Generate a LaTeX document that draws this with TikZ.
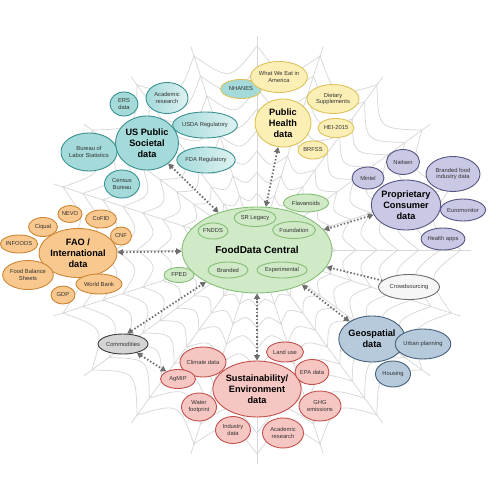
\documentclass[tikz,border=0pt]{standalone}
\usepackage{fontspec}
\setmainfont{Liberation Sans}
\usetikzlibrary{shapes.geometric,arrows.meta}
\definecolor{webc}{HTML}{D8D8D8}
\definecolor{txtc}{HTML}{333333}
\definecolor{arrc}{HTML}{6E6E6E}
\definecolor{usF}{HTML}{A4DADA}
\definecolor{usD}{HTML}{3A9090}
\definecolor{phF}{HTML}{FCEFB6}
\definecolor{phD}{HTML}{DCC25A}
\definecolor{prF}{HTML}{C9C9E5}
\definecolor{prD}{HTML}{55557F}
\definecolor{faF}{HTML}{F8C88E}
\definecolor{faD}{HTML}{CC8636}
\definecolor{fdF}{HTML}{D0E9C7}
\definecolor{fdD}{HTML}{86BE76}
\definecolor{suF}{HTML}{F6C6C2}
\definecolor{suD}{HTML}{C2504C}
\definecolor{geF}{HTML}{B6CADC}
\definecolor{geD}{HTML}{45607A}
\definecolor{coF}{HTML}{D4D4D4}
\definecolor{coD}{HTML}{3E3E3E}
\definecolor{crF}{HTML}{F6F6F6}
\definecolor{crD}{HTML}{6E6E6E}
\tikzset{
  web/.style={draw=webc, line width=0.75pt},
  bub/.style={ellipse, draw, line width=0.9pt, inner sep=0pt, align=center, text=txtc,
              font=\fontsize{5.8}{6.8}\selectfont},
  ttl/.style={font=\bfseries\fontsize{9.2}{10.8}\selectfont, text=black},
  sz/.style 2 args={minimum width=#1pt, minimum height=#2pt},
  cUS/.style={fill=usF, draw=usD},
  cUSs/.style={left color=usF, right color=usF!35!white, draw=usD},
  cPH/.style={fill=phF, draw=phD},
  cPR/.style={fill=prF, draw=prD},
  cFA/.style={fill=faF, draw=faD},
  cFD/.style={fill=fdF, draw=fdD},
  cSU/.style={fill=suF, draw=suD},
  cGE/.style={fill=geF, draw=geD},
  cCO/.style={fill=coF, draw=coD},
  cCR/.style={fill=crF, draw=crD},
  conn/.style={draw=arrc, line width=1.8pt, dash pattern=on 1.5pt off 2pt,
               >={Triangle[length=5.5pt,width=6pt]}}
}
\begin{document}
\begin{tikzpicture}[x=1pt,y=-1pt]
\fill[white] (0,0) rectangle (500,500);
\useasboundingbox (0,0) rectangle (500,500);
% spider web
\begin{scope}[shift={(257,250)}]
  \foreach \a in {0,18,...,342} \draw[web] (0,0) -- (\a:214);
  \foreach \r in {36,57,...,204} {
    \pgfmathsetmacro\rc{0.84*\r}
    \foreach \a in {0,18,...,342} {
      \pgfmathsetmacro\am{\a+9}
      \pgfmathsetmacro\ae{\a+18}
      \draw[web] (\a:\r) .. controls (\am:\rc) .. (\ae:\r);
    }
  }
\end{scope}

% FoodData Central
\node[bub,cFD,sz={150}{86},font=\bfseries\fontsize{10}{12}\selectfont,text=black] (fdc) at (257,250) {FoodData Central};
\node[bub,cFD,sz={42}{17}] (srleg) at (255,218) {SR Legacy};
\node[bub,cFD,sz={30}{16}] (fndds) at (213,231) {FNDDS};
\node[bub,cFD,sz={43}{17}] (found) at (294,230) {Foundation};
\node[bub,cFD,sz={45}{18}] (flav) at (306,203) {Flavanoids};
\node[bub,cFD,sz={40}{16}] (brand) at (228,270) {Branded};
\node[bub,cFD,sz={50}{16}] (exper) at (282,270) {Experimental};
\node[bub,cFD,sz={30}{15}] (fped) at (179,275) {FPED};

% US Public Societal
\node[bub,cUS,ttl,sz={63}{54}] (uspub) at (147,143) {US Public\\Societal\\data};
\node[bub,cUS,sz={28}{24}] (ers) at (124,104) {ERS\\data};
\node[bub,cUSs,sz={42}{31}] (acad1) at (167,98) {Academic\\research};
\node[bub,cUSs,sz={50}{26}] (usda) at (205,125) {USDA Regulatory};
\node[bub,cUSs,sz={50}{26}] (fda) at (206,160) {FDA Regulatory};
\node[bub,cUS,sz={46}{38}] (bls) at (89,152) {Bureau of\\Labor Statistics};
\node[bub,cUS,sz={35}{28}] (census) at (122,184) {Census\\Bureau};

% Public Health
\node[bub,cPH,ttl,sz={56}{48}] (ph) at (283,123) {Public\\Health\\data};
\node[bub,cUS,draw=phD,sz={41}{19}] (nhanes) at (241,89) {NHANES};
\node[bub,cPH,sz={51}{31}] (wwe) at (279,77) {What We Eat in\\America};
\node[bub,cPH,sz={52}{29}] (diet) at (333,99) {Dietary\\Supplements};
\node[bub,cPH,sz={36}{19}] (hei) at (336,128) {HEI-2015};
\node[bub,cPH,sz={30}{18}] (brfss) at (313,150) {BRFSS};

% Proprietary Consumer
\node[bub,cPR,ttl,sz={61}{50}] (prop) at (406,205) {Proprietary\\Consumer\\data};
\node[bub,cPR,sz={33}{25}] (niel) at (403,162) {Nielsen};
\node[bub,cPR,sz={32}{22}] (mintel) at (368,178) {Mintel};
\node[bub,cPR,sz={54}{35}] (bfid) at (453,174) {Branded food\\industry data};
\node[bub,cPR,sz={45}{22}] (euro) at (463,210) {Euromonitor};
\node[bub,cPR,sz={38}{22}] (happ) at (443,239) {Health apps};
\node[bub,cCR,sz={61}{25}] (crowd) at (409,287) {Crowdsourcing};

% FAO / International
\node[bub,cFA,ttl,sz={63}{49}] (fao) at (78,253) {FAO /\\International\\data};
\node[bub,cFA,sz={24}{17}] (nevo) at (70,214) {NEVO};
\node[bub,cFA,sz={29}{19}] (ciqual) at (43,227) {Ciqual};
\node[bub,cFA,sz={31}{18}] (cofid) at (101,219) {CoFID};
\node[bub,cFA,sz={21}{18}] (cnf) at (121,236) {CNF};
\node[bub,cFA,sz={35}{18}] (infoods) at (19,244) {INFOODS};
\node[bub,cFA,sz={45}{29}] (fbs) at (28,275) {Food Balance\\Sheets};
\node[bub,cFA,sz={46}{20}] (wb) at (99,284) {World Bank};
\node[bub,cFA,sz={24}{18}] (gdp) at (63,295) {GDP};
\node[bub,cCO,sz={50}{20}] (commod) at (123,344) {Commodities};

% Sustainability / Environment
\node[bub,cSU,ttl,sz={81}{56}] (sust) at (257,389) {Sustainability/\\Environment\\data};
\node[bub,cSU,sz={40}{30}] (climate) at (203,362) {Climate data};
\node[bub,cSU,sz={35}{19}] (agmip) at (178,379) {AgMIP};
\node[bub,cSU,sz={37}{20}] (landuse) at (285,352) {Land use};
\node[bub,cSU,sz={27}{25}] (epa) at (312,372) {EPA data};
\node[bub,cSU,sz={35}{28}] (water) at (199,407) {Water\\footprint};
\node[bub,cSU,sz={42}{30}] (ghg) at (320,406) {GHG\\emissions};
\node[bub,cSU,sz={35}{27}] (indus) at (233,430) {Industry\\data};
\node[bub,cSU,sz={41}{30}] (acad2) at (283,433) {Academic\\research};

% Geospatial
\node[bub,cGE,ttl,sz={54}{46}] (geo) at (372,339) {Geospatial\\data};
\node[bub,cGE,sz={44}{30}] (urban) at (423,344) {Urban planning};
\node[bub,cGE,sz={35}{26}] (housing) at (393,374) {Housing};

% connectors
\draw[conn,<->] (uspub) -- (fdc);
\draw[conn,<->] (ph) -- (fdc);
\draw[conn,<->] (fao) -- (fdc);
\draw[conn,<->] (prop) -- (fdc);
\draw[conn,->] (crowd) -- (fdc);
\draw[conn,<->] (geo) -- (fdc);
\draw[conn,<->] (sust) -- (fdc);
\draw[conn,<->] (commod.68) -- (fdc.212);
\draw[conn,<->] (commod) -- (agmip);
\end{tikzpicture}
\end{document}
